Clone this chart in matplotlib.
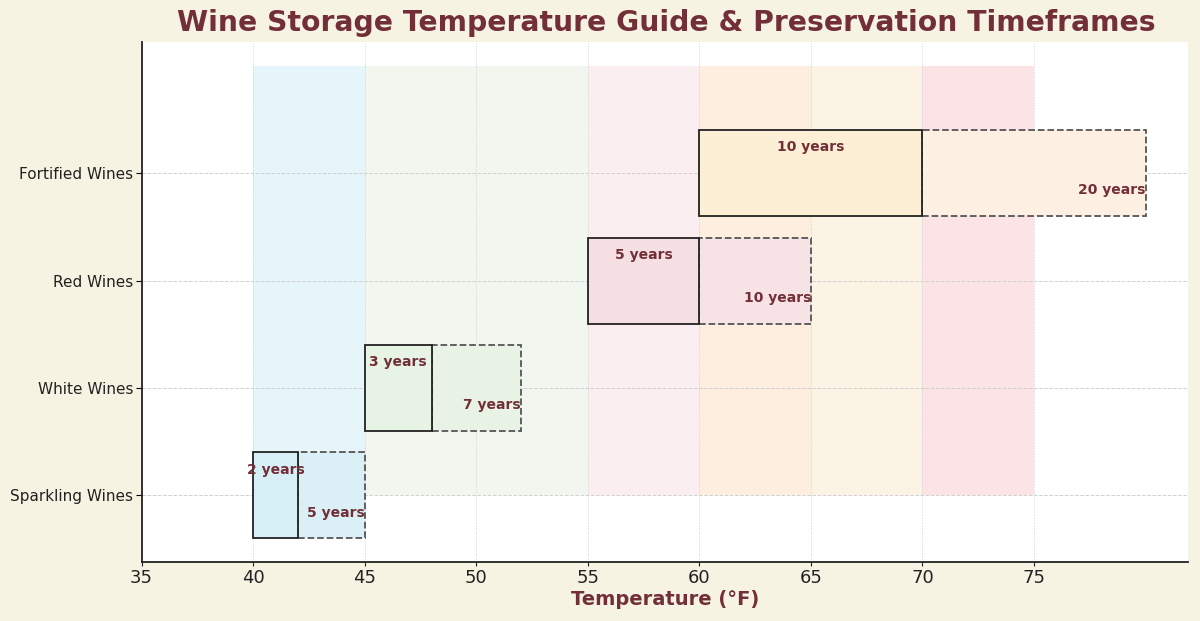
import matplotlib
matplotlib.use("Agg")
import matplotlib.pyplot as plt
from matplotlib.patches import Rectangle

WINE = "#722f37"

wines = ["Sparkling Wines", "White Wines", "Red Wines", "Fortified Wines"]
temp_low = [40, 45, 55, 60]
temp_mid = [42, 48, 60, 70]
temp_high = [45, 52, 65, 80]
short_years = ["2 years", "3 years", "5 years", "10 years"]
long_years = ["5 years", "7 years", "10 years", "20 years"]
box_solid = ["#d6eef5", "#e6f3e5", "#f6dfe3", "#fdeed6"]
box_dash = ["#dbf0f6", "#e8f3e6", "#f7e3e6", "#fdf0e2"]

# temperature zones in the background
zone_start = [40, 45, 55, 60, 65, 70]
zone_end = [45, 55, 60, 65, 70, 75]
zone_color = ["#e6f5fa", "#f1f6ee", "#fbeef0", "#fdeee0", "#fbf3e4", "#fce3e6"]

fig = plt.figure(figsize=(12, 6.21), dpi=100, facecolor="#f7f3e3")
ax = fig.add_axes([0.118, 0.095, 0.872, 0.837])
ax.set_facecolor("white")

for x0, x1, c in zip(zone_start, zone_end, zone_color):
    ax.add_patch(Rectangle((x0, 0), x1 - x0, len(wines), facecolor=c,
                           edgecolor="none", zorder=0))

h = 0.8
for i in range(len(wines)):
    ax.add_patch(Rectangle((temp_low[i], i - h / 2), temp_mid[i] - temp_low[i], h,
                           facecolor=box_solid[i], edgecolor="#222", lw=1.3, zorder=3))
    ax.add_patch(Rectangle((temp_mid[i], i - h / 2), temp_high[i] - temp_mid[i], h,
                           facecolor=box_dash[i], edgecolor="#555", lw=1.3, ls="--", zorder=2))
    ax.text((temp_low[i] + temp_mid[i]) / 2, i + 0.24, short_years[i], ha="center",
            va="center", color=WINE, fontsize=10, weight="bold", zorder=5)
    ax.text(temp_high[i], i - 0.16, long_years[i], ha="right", va="center",
            color=WINE, fontsize=10, weight="bold", zorder=5)

ax.set_xlim(35, 81.9)
ax.set_ylim(-0.62, 4.22)
ax.set_xticks(range(35, 80, 5))
ax.set_yticks(range(len(wines)))
ax.set_yticklabels(wines, fontsize=11, color="#222")
ax.tick_params(axis="x", labelsize=13, colors="#222", length=3, pad=2)
ax.tick_params(axis="y", length=4, pad=2)
ax.grid(True, axis="y", ls="--", color="#d0d0d0", lw=0.7)
ax.grid(True, axis="x", ls=":", color="#d0d0d0", lw=0.7)
for s in ["top", "right"]:
    ax.spines[s].set_visible(False)
for s in ["left", "bottom"]:
    ax.spines[s].set_color("#222")
    ax.spines[s].set_linewidth(1.3)
    ax.spines[s].set_zorder(6)

ax.set_xlabel("Temperature (°F)", fontsize=14, weight="bold", color=WINE, labelpad=2)
fig.suptitle("Wine Storage Temperature Guide & Preservation Timeframes",
             fontsize=20.3, weight="bold", color=WINE, x=0.555, y=0.985)

fig.savefig("out.png", dpi=100, facecolor=fig.get_facecolor())
